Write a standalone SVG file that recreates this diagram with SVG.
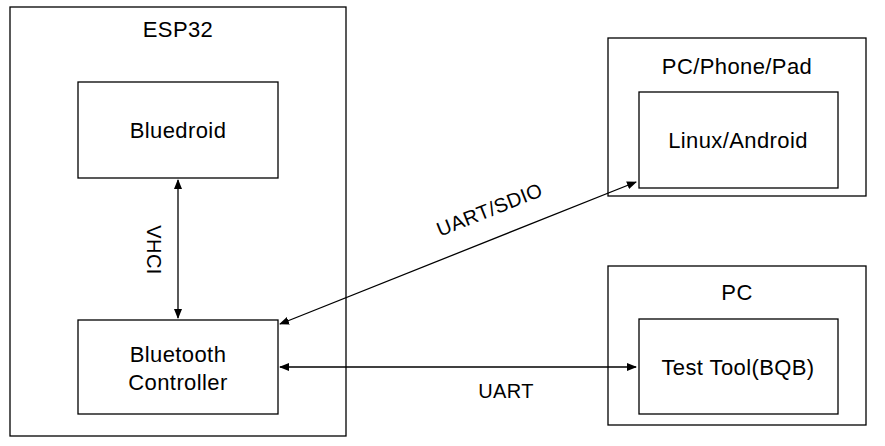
<svg xmlns="http://www.w3.org/2000/svg" width="885" height="446" viewBox="0 0 885 446">
<style>
.b{fill:#fff;stroke:#000;stroke-width:1.3}
text{font-family:"Liberation Sans",Arial,sans-serif;font-size:22px;letter-spacing:0.4px;fill:#000;text-anchor:middle}
.c{stroke:#000;stroke-width:1.3;fill:none;marker-start:url(#a);marker-end:url(#a)}
</style>
<defs><marker id="a" viewBox="0 0 10 10" refX="9" refY="5" markerWidth="10" markerHeight="10" markerUnits="userSpaceOnUse" orient="auto-start-reverse"><path d="M0,1 L10,5 L0,9 z" fill="#000"/></marker></defs>
<rect width="885" height="446" fill="#fff"/>
<g id="esp32"><rect class="b" x="10" y="7" width="336" height="429"/><text x="178" y="37">ESP32</text></g>
<g id="bluedroid"><rect class="b" x="78" y="82" width="200" height="96"/><text x="178" y="138">Bluedroid</text></g>
<g id="controller"><rect class="b" x="78" y="320" width="200" height="94"/><text x="178" y="362">Bluetooth</text><text x="178" y="390">Controller</text></g>
<g id="pcphone"><rect class="b" x="608" y="38" width="258" height="158"/><text x="737" y="74">PC/Phone/Pad</text></g>
<g id="linux"><rect class="b" x="639" y="92" width="199" height="96"/><text x="738" y="148">Linux/Android</text></g>
<g id="pc"><rect class="b" x="608" y="266" width="258" height="159"/><text x="737" y="300">PC</text></g>
<g id="testtool"><rect class="b" x="639" y="319" width="199" height="95"/><text x="738" y="375">Test Tool(BQB)</text></g>
<g id="connectors">
<line class="c" x1="178" y1="180" x2="178" y2="318"/>
<line class="c" x1="280" y1="324" x2="636" y2="182"/>
<line class="c" x1="280" y1="367" x2="636" y2="367"/>
<text transform="translate(147,250) rotate(90)" style="font-size:20px">VHCI</text>
<text transform="translate(492,216) rotate(-21.7)" style="font-size:20px">UART/SDIO</text>
<text x="506" y="398" style="font-size:20px">UART</text>
</g>
</svg>
